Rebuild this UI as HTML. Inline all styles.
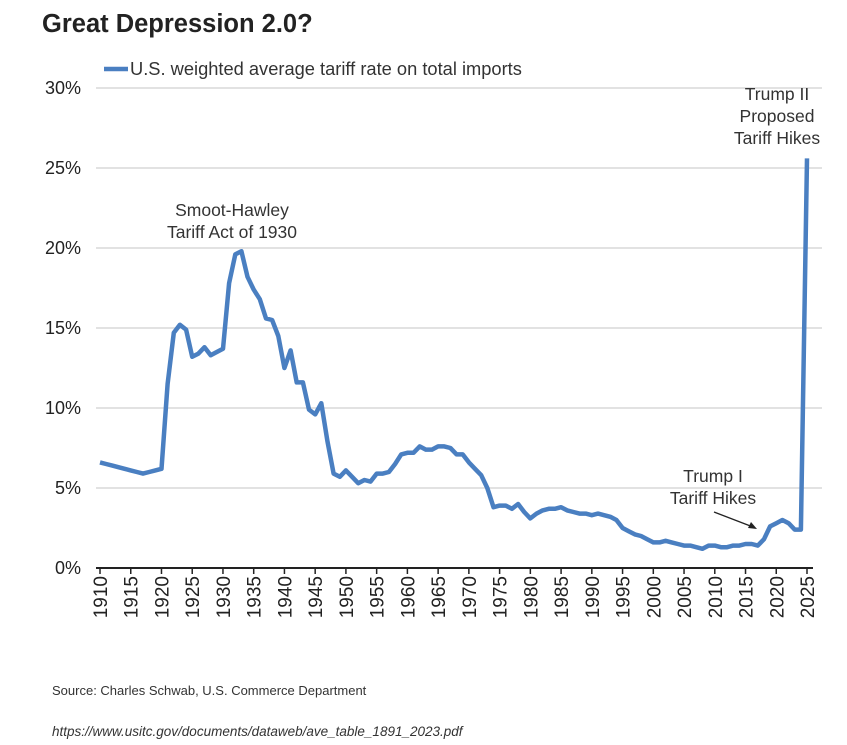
<!DOCTYPE html>
<html><head><meta charset="utf-8"><style>
body{margin:0;background:#fff;width:847px;height:745px;overflow:hidden;font-family:"Liberation Sans",sans-serif;}
</style></head><body>
<svg width="847" height="745" style="position:absolute;left:0;top:0">
<text x="42" y="32" font-size="25.5" font-weight="bold" fill="#222">Great Depression 2.0?</text>
<line x1="104" y1="69" x2="128" y2="69" stroke="#4a7fc1" stroke-width="4.5"/>
<text x="130" y="75" font-size="18.3" fill="#333">U.S. weighted average tariff rate on total imports</text>
<g id="grid"></g><g id="ylab"></g><g id="xlab"></g>
<path id="line" fill="none" stroke="#4a7fc1" stroke-width="4.5" stroke-linejoin="round"/>
<g font-size="17.5" fill="#333" text-anchor="middle">
<text x="232" y="216">Smoot-Hawley</text>
<text x="232" y="238">Tariff Act of 1930</text>
<text x="777" y="100">Trump II</text>
<text x="777" y="122">Proposed</text>
<text x="777" y="144">Tariff Hikes</text>
<text x="713" y="482">Trump I</text>
<text x="713" y="504">Tariff Hikes</text>
</g>
<line x1="714" y1="512" x2="753" y2="527" stroke="#222" stroke-width="1.3"/>
<polygon points="757,529 748,528 751,522" fill="#222"/>
<text x="52" y="695" font-size="13" fill="#333">Source: Charles Schwab, U.S. Commerce Department</text>
<text x="52" y="736" font-size="13.5" font-style="italic" fill="#333">https://www.usitc.gov/documents/dataweb/ave_table_1891_2023.pdf</text>
</svg>
<script>
const startYear=1910;
const rates=[6.6,6.5,6.4,6.3,6.2,6.1,6.0,5.9,6.0,6.1,6.2,11.5,14.7,15.2,14.9,13.2,13.4,13.8,13.3,13.5,13.7,17.8,19.6,19.8,18.2,17.4,16.8,15.6,15.5,14.5,12.5,13.6,11.6,11.6,9.9,9.6,10.3,7.9,5.9,5.7,6.1,5.7,5.3,5.5,5.4,5.9,5.9,6.0,6.5,7.1,7.2,7.2,7.6,7.4,7.4,7.6,7.6,7.5,7.1,7.1,6.6,6.2,5.8,5.0,3.8,3.9,3.9,3.7,4.0,3.5,3.1,3.4,3.6,3.7,3.7,3.8,3.6,3.5,3.4,3.4,3.3,3.4,3.3,3.2,3.0,2.5,2.3,2.1,2.0,1.8,1.6,1.6,1.7,1.6,1.5,1.4,1.4,1.3,1.2,1.4,1.4,1.3,1.3,1.4,1.4,1.5,1.5,1.4,1.8,2.6,2.8,3.0,2.8,2.4,2.4,25.6];
const yTicks=[0,5,10,15,20,25,30];
const xTicks=[1910,1915,1920,1925,1930,1935,1940,1945,1950,1955,1960,1965,1970,1975,1980,1985,1990,1995,2000,2005,2010,2015,2020,2025];
const NS="http://www.w3.org/2000/svg";
const X=y=>100+(y-1910)*(707/115);
const Y=v=>568-v*16;
const g=document.getElementById('grid'),yl=document.getElementById('ylab'),xl=document.getElementById('xlab');
yTicks.forEach(t=>{
 if(t>0){const l=document.createElementNS(NS,'line');
 l.setAttribute('x1',96);l.setAttribute('x2',822);l.setAttribute('y1',Y(t));l.setAttribute('y2',Y(t));
 l.setAttribute('stroke','#d9d9d9');l.setAttribute('stroke-width','1.5');
 
 
 g.appendChild(l);}
 const tx=document.createElementNS(NS,'text');
 tx.setAttribute('x',81);tx.setAttribute('y',Y(t)+6);tx.setAttribute('text-anchor','end');
 tx.setAttribute('font-size','18');tx.setAttribute('fill','#222');tx.textContent=t+'%';
 
 
 yl.appendChild(tx);
});
const ax=document.createElementNS(NS,'line');
ax.setAttribute('x1',96);ax.setAttribute('x2',813);ax.setAttribute('y1',568);ax.setAttribute('y2',568);
ax.setAttribute('stroke','#222');ax.setAttribute('stroke-width','2');


g.appendChild(ax);
xTicks.forEach(t=>{
 const x=X(t);
 const l=document.createElementNS(NS,'line');
 l.setAttribute('x1',x);l.setAttribute('x2',x);l.setAttribute('y1',568);l.setAttribute('y2',574);
 l.setAttribute('stroke','#222');l.setAttribute('stroke-width','1.5');
 
 
 g.appendChild(l);
 const tx=document.createElementNS(NS,'text');
 tx.setAttribute('transform','translate('+(x+7)+',576) rotate(-90)');
 tx.setAttribute('text-anchor','end');tx.setAttribute('font-size','19');tx.setAttribute('fill','#222');
 tx.textContent=t;
 
 
 xl.appendChild(tx);
});
document.getElementById('line').setAttribute('d',rates.map((v,i)=>(i?'L':'M')+X(startYear+i).toFixed(1)+','+Y(v).toFixed(1)).join(''));
</script>
</body></html>
